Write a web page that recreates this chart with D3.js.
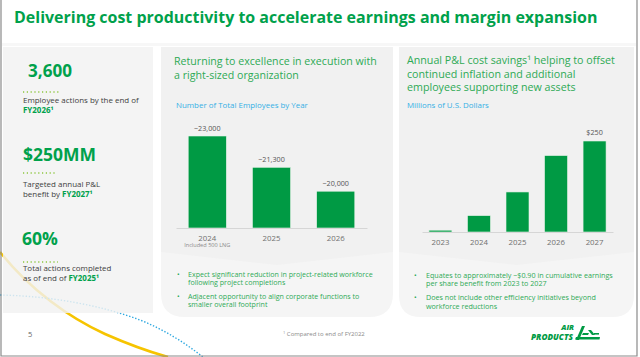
<!DOCTYPE html>
<html><head><meta charset="utf-8">
<script src="https://cdn.jsdelivr.net/npm/d3@7"></script>
<style>html,body{margin:0;padding:0;background:#fff;}svg{display:block;}</style>
</head><body>
<svg id="c" width="640" height="357"></svg>
<script>
// ---- data ----
const empYears = ["2024", "2025", "2026"];
const empValues = [23000, 21300, 20000];
const empLabels = ["~23,000", "~21,300", "~20,000"];
const empNote = "Included 500 LNG";
const savYears = ["2023", "2024", "2025", "2026", "2027"];
const savValues = [5, 45, 110, 210, 250];
const savLabels = ["", "", "", "", "$250"];

const FONT = "'Open Sans', 'Noto Sans', sans-serif";
const GREEN = "#00a14b", LGREEN = "#2eaa55", BAR = "#009a44", BLUE = "#35b0e5", TXT = "#404040";
const svg = d3.select("#c").attr("font-family", FONT);

function fitW(sel, w) {
  const fs = parseFloat(sel.attr("font-size"));
  const l = sel.node().getComputedTextLength();
  const n = fs * w / l;
  sel.attr("font-size", n);
  return n;
}
function txt(g, x, y, s, fs, fill, weight) {
  return g.append("text").attr("x", x).attr("y", y).attr("font-size", fs)
    .attr("fill", fill).attr("font-weight", weight || 400).text(s);
}

// ---- decorative curves (under panels) ----
svg.append("path").attr("d", "M0,252 C30,290 70,318 105,334 C130,345 150,352 168,357")
  .attr("fill", "none").attr("stroke", "#f6c400").attr("stroke-width", 2.6);
svg.append("path").attr("d", "M0,295 C50,296 100,305 140,320 C165,330 185,343 203,357")
  .attr("fill", "none").attr("stroke", "#2ea8e0").attr("stroke-width", 1.4).attr("stroke-dasharray", "1.4,1.8");

// top separator
svg.append("rect").attr("x", 2).attr("y", 43).attr("width", 634).attr("height", 3).attr("fill", "#f7f7f7");

// ---- panels ----
svg.append("rect").attr("x", 3).attr("y", 47).attr("width", 150).attr("height", 266)
  .attr("fill", "#f2f2f2").attr("opacity", 0.82);

function panel(x0, x1, yTop, yChev, yTip, yBot, r) {
  const xm = (x0 + x1) / 2;
  svg.append("path").attr("fill", "#f5f5f5")
    .attr("d", `M${x0},${yChev} L${x0},${yBot - r} Q${x0},${yBot} ${x0 + r},${yBot} L${x1 - r},${yBot} Q${x1},${yBot} ${x1},${yBot - r} L${x1},${yChev} Z`);
  svg.append("path").attr("fill", "#f1f1f1")
    .attr("d", `M${x0},${yTop} L${x1},${yTop} L${x1},${yChev} L${xm},${yTip} L${x0},${yChev} Z`);
}
panel(161, 393, 47, 252, 265, 317, 24);
panel(399, 634, 47, 252, 265, 317, 22);

// frame
svg.append("path").attr("d", "M1,0 L1,356 L637,356 L637,0").attr("fill", "none").attr("stroke", "#8a8a8a").attr("stroke-width", 1.2);

// ---- main title ----
const t = txt(svg, 14, 23, "Delivering cost productivity to accelerate earnings and margin expansion", 16, GREEN, 700);
fitW(t, 584);

// ---- left panel ----
const L = svg.append("g");
function dots(y, x0, x1) {
  L.append("line").attr("x1", x0).attr("x2", x1).attr("y1", y).attr("y2", y)
    .attr("stroke", "#8dc63f").attr("stroke-width", 1.3).attr("stroke-dasharray", "1.2,2.6");
}
fitW(txt(L, 28, 77, "3,600", 18, GREEN, 700), 44);
dots(92, 23, 59);
const e1 = txt(L, 23, 103, "Employee actions by the end of", 8, TXT);
const fsL = fitW(e1, 116);
txt(L, 23, 113, "FY2026¹", fsL, GREEN, 700);
fitW(txt(L, 23, 161, "$250MM", 18, GREEN, 700), 73);
dots(173, 23, 57);
txt(L, 23, 187, "Targeted annual P&L", fsL, TXT);
const b2 = L.append("text").attr("x", 23).attr("y", 197).attr("font-size", fsL).attr("fill", TXT);
b2.append("tspan").text("benefit by ");
b2.append("tspan").attr("fill", GREEN).attr("font-weight", 700).text("FY2027¹");
fitW(txt(L, 22, 245, "60%", 18, GREEN, 700), 36);
dots(262, 23, 58);
txt(L, 23, 271, "Total actions completed", fsL, TXT);
const b3 = L.append("text").attr("x", 23).attr("y", 281).attr("font-size", fsL).attr("fill", TXT);
b3.append("tspan").text("as of end of ");
b3.append("tspan").attr("fill", GREEN).attr("font-weight", 700).text("FY2025¹");
txt(L, 28, 337, "5", 7.5, "#666");

// ---- middle panel ----
const M = svg.append("g");
const m1 = txt(M, 174, 65, "Returning to excellence in execution with", 12, LGREEN);
const fsT = fitW(m1, 203);
txt(M, 174, 79, "a right-sized organization", fsT, LGREEN);
fitW(txt(M, 176, 108, "Number of Total Employees by Year", 8, BLUE), 132);

const xE = d3.scaleBand().domain(empYears).range([176, 367]).paddingInner(0.406).paddingOuter(0.19);
const yE = d3.scaleLinear().domain([18000, 23000]).range([228, 136]);
M.selectAll("rect.bar").data(empValues).join("rect").attr("class", "bar")
  .attr("x", (d, i) => xE(empYears[i])).attr("width", xE.bandwidth())
  .attr("y", d => yE(d)).attr("height", d => yE.range()[0] - yE(d))
  .attr("fill", BAR).attr("stroke", "#e8f3ea").attr("stroke-width", 0.6);
M.selectAll("text.val").data(empValues).join("text").attr("class", "val")
  .attr("x", (d, i) => xE(empYears[i]) + xE.bandwidth() / 2).attr("y", d => yE(d) - 5)
  .attr("text-anchor", "middle").attr("font-size", 7.2).attr("fill", "#555")
  .text((d, i) => empLabels[i]);
const axE = M.append("g").attr("transform", "translate(0,228)")
  .call(d3.axisBottom(xE).tickSize(0).tickPadding(0));
axE.select(".domain").attr("stroke", "#d6d6d6");
axE.selectAll("text").attr("font-family", FONT).attr("font-size", 7.8).attr("font-weight", 400).attr("fill", "#707070")
  .attr("dy", 0).attr("y", 12.7);
M.append("text").attr("x", xE("2024") + xE.bandwidth() / 2).attr("y", 247.3)
  .attr("text-anchor", "middle").attr("font-size", 5.6).attr("fill", "#8a8a8a").text(empNote);

const fsB = 8;
function bullets(g, xb, xt, lines, ys, w) {
  const first = txt(g, xt, ys[0], lines[0][0], fsB, LGREEN);
  const fs = fitW(first, w);
  lines.forEach((ln, i) => {
    txt(g, xb, ys[i * 2], "•", fs, LGREEN);
    ln.forEach((s, j) => { if (i || j) txt(g, xt, ys[i * 2 + j], s, fs, LGREEN); });
  });
}
bullets(M, 177, 188, [["Expect significant reduction in project-related workforce", "following project completions"],
  ["Adjacent opportunity to align corporate functions to", "smaller overall footprint"]],
  [276.5, 285, 298.5, 307], 185);
const fn = M.append("text").attr("x", 283).attr("y", 336).attr("font-size", 6).attr("fill", "#8a8a8a");
fn.append("tspan").attr("font-size", 4).attr("dy", -2).text("1");
fn.append("tspan").attr("dy", 2).text(" Compared to end of FY2022");

// ---- right panel ----
const R = svg.append("g");
const r1 = txt(R, 407, 64, "Annual P&L cost savings¹ helping to offset", 12, LGREEN);
const fsR = fitW(r1, 208);
txt(R, 407, 77.5, "continued inflation and additional", fsR, LGREEN);
txt(R, 407, 90.5, "employees supporting new assets", fsR, LGREEN);
fitW(txt(R, 407, 107.5, "Millions of U.S. Dollars", 8, BLUE), 82);

const xS = d3.scaleBand().domain(savYears).range([422, 613]).paddingInner(0.403).paddingOuter(0.18);
const yS = d3.scaleLinear().domain([0, 250]).range([232, 141]);
R.selectAll("rect.bar").data(savValues).join("rect").attr("class", "bar")
  .attr("x", (d, i) => xS(savYears[i])).attr("width", xS.bandwidth())
  .attr("y", d => yS(d)).attr("height", d => yS(0) - yS(d))
  .attr("fill", BAR).attr("stroke", "#e8f3ea").attr("stroke-width", 0.6);
R.selectAll("text.val").data(savValues).join("text").attr("class", "val")
  .attr("x", (d, i) => xS(savYears[i]) + xS.bandwidth() / 2).attr("y", d => yS(d) - 6)
  .attr("text-anchor", "middle").attr("font-size", 7.2).attr("fill", "#555")
  .text((d, i) => savLabels[i]);
const axS = R.append("g").attr("transform", "translate(0,232)")
  .call(d3.axisBottom(xS).tickSize(0).tickPadding(0));
axS.select(".domain").attr("stroke", "#d6d6d6");
axS.selectAll("text").attr("font-family", FONT).attr("font-size", 7.8).attr("font-weight", 400).attr("fill", "#707070")
  .attr("dy", 0).attr("y", 13);

bullets(R, 414, 426, [["Equates to approximately ~$0.90 in cumulative earnings", "per share benefit from 2023 to 2027"],
  ["Does not include other efficiency initiatives beyond", "workforce reductions"]],
  [277.5, 286, 300, 308.5], 187);

// ---- logo ----
const G = svg.append("g").attr("fill", BAR).attr("font-weight", 800).attr("font-style", "italic");
G.append("text").attr("x", 574).attr("y", 329.5).attr("text-anchor", "end").attr("font-size", 7.6).text("AIR");
const pr = G.append("text").attr("x", 531).attr("y", 340).attr("font-size", 8).text("PRODUCTS");
fitW(pr, 42);
G.append("path").attr("d", "M582,326 L585,326 L579,340 L576,340 Z");
G.append("path").attr("d", "M583,333 L589,333 L588,335 L582,335 Z");
G.append("path").attr("d", "M576,337 L600,337 L599.5,339.5 L575,339.5 Z");
G.append("path").attr("d", "M588,330 L591,330 L595,335 L592,335 Z");
G.append("rect").attr("x", 594).attr("y", 333).attr("width", 5).attr("height", 1.6);
</script>
</body></html>
